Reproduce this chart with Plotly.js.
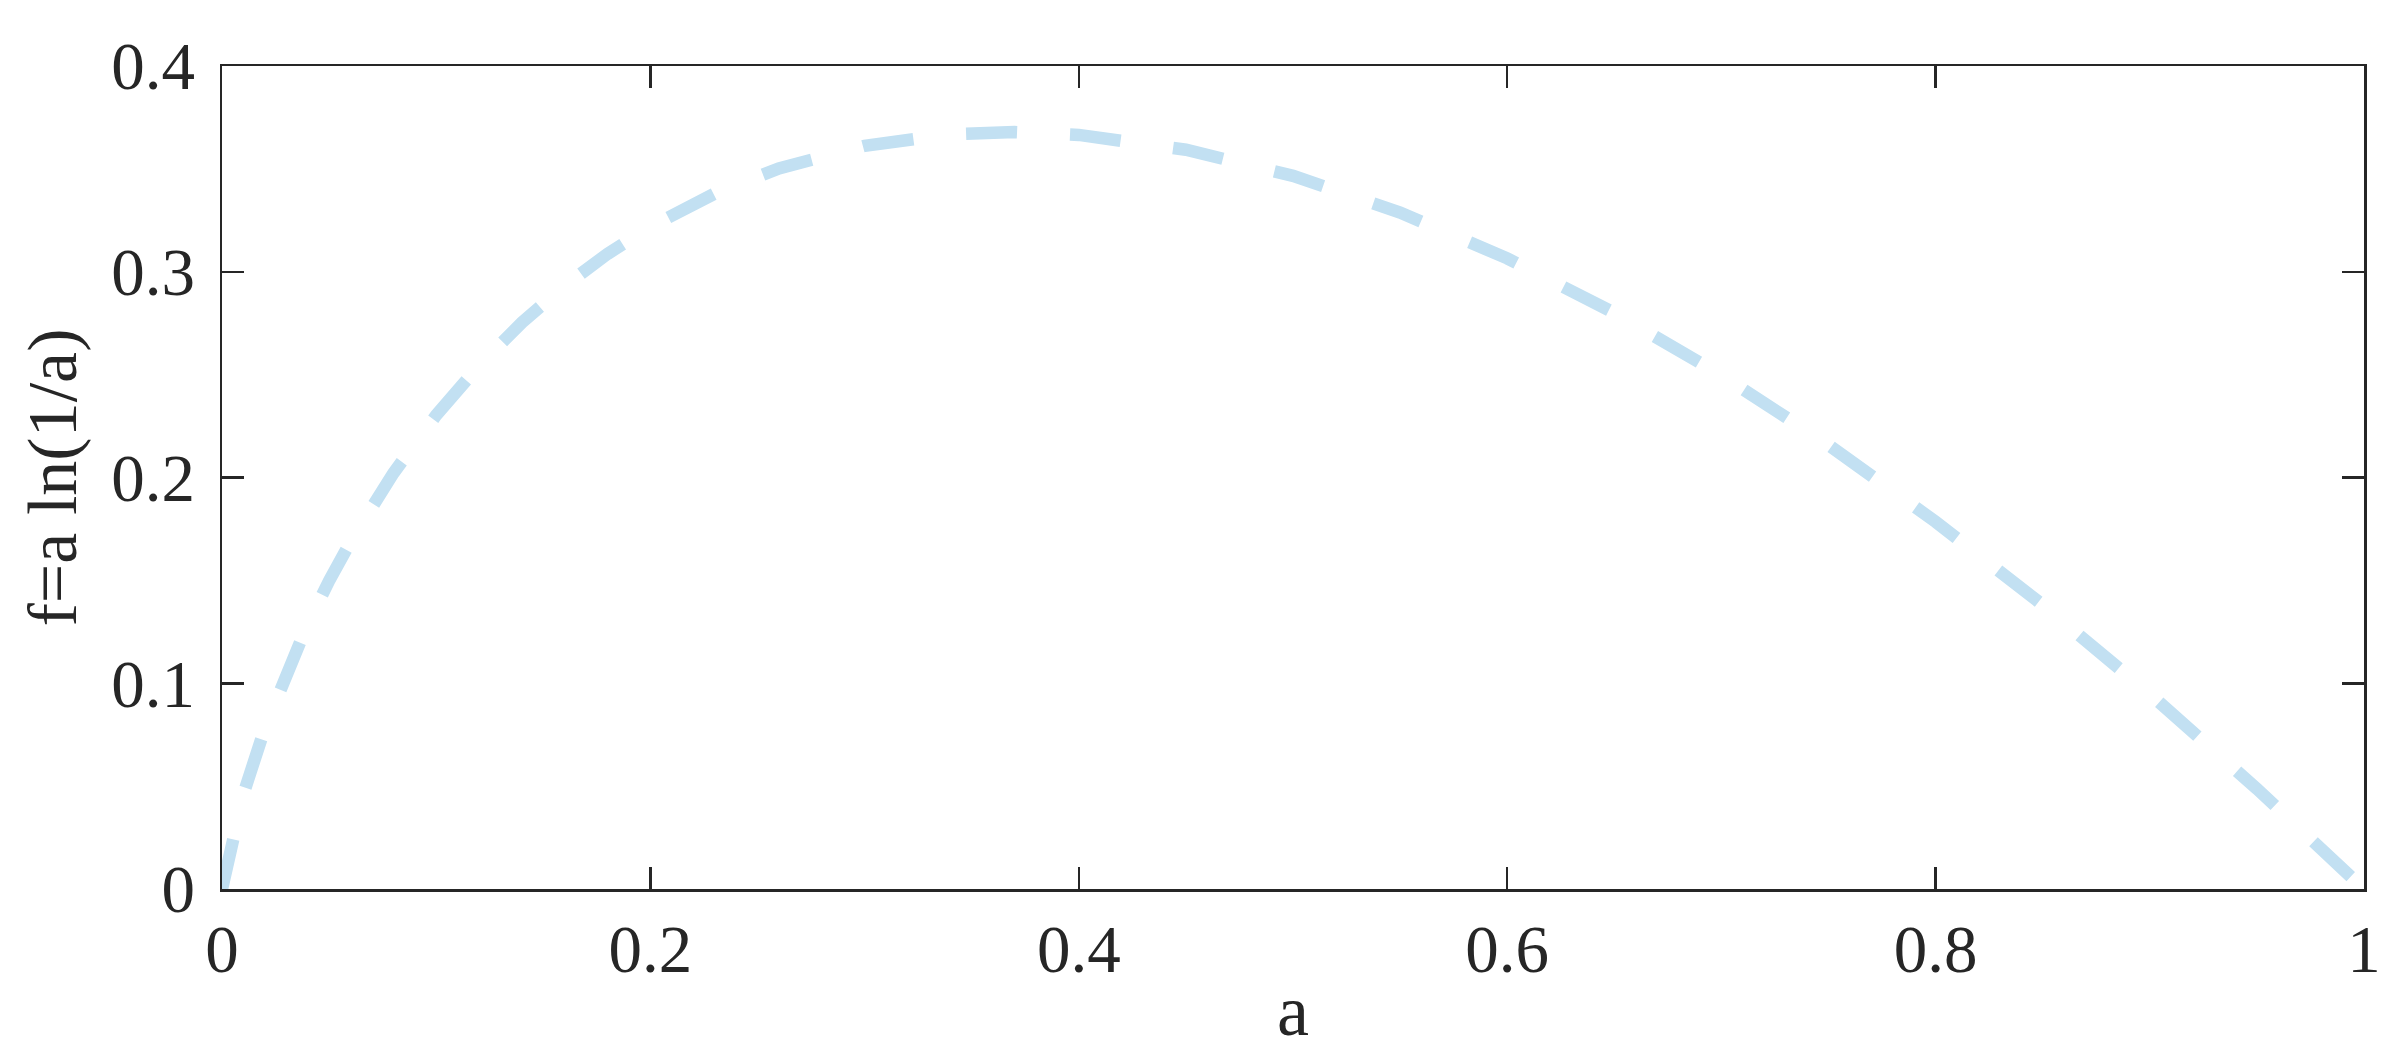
<!DOCTYPE html>
<html>
<head>
<meta charset="utf-8">
<script src="https://cdn.plot.ly/plotly-3.0.1.min.js"></script>
<style>html,body{margin:0;padding:0;background:#fff;}#chart{width:2405px;height:1061px;}</style>
</head>
<body>
<div id="chart"></div>
<script>
// a values and f = a ln(1/a)
const aValues = [0, 0.01, 0.02, 0.03, 0.04, 0.05, 0.06, 0.08, 0.10, 0.12, 0.14, 0.16, 0.18, 0.20, 0.23, 0.26, 0.30, 0.34, 0.37, 0.40, 0.45, 0.50, 0.55, 0.60, 0.65, 0.70, 0.75, 0.80, 0.85, 0.90, 0.95, 1.00];
const fValues = [0, 0.0461, 0.0782, 0.1052, 0.1288, 0.1498, 0.1688, 0.2021, 0.2303, 0.2544, 0.2753, 0.2932, 0.3087, 0.3219, 0.3380, 0.3502, 0.3612, 0.3668, 0.3679, 0.3665, 0.3593, 0.3466, 0.3288, 0.3065, 0.2800, 0.2497, 0.2158, 0.1785, 0.1381, 0.0948, 0.0487, 0];
const xTickVals = [0, 0.2, 0.4, 0.6, 0.8, 1];
const xTickText = ['0', '0.2', '0.4', '0.6', '0.8', '1'];
const yTickVals = [0, 0.1, 0.2, 0.3, 0.4];
const yTickText = ['0', '0.1', '0.2', '0.3', '0.4'];

const axisColor = '#262626';
const fontFam = '"Liberation Serif", "Times New Roman", serif';

const trace = {
  x: aValues,
  y: fValues,
  type: 'scatter',
  mode: 'lines',
  line: {color: '#c2e0f2', width: 12.5, dash: '51px,53px'},
  hoverinfo: 'skip',
  showlegend: false
};

const commonAxis = {
  showline: true,
  linecolor: axisColor,
  linewidth: 2.5,
  mirror: 'ticks',
  ticks: 'inside',
  ticklen: 22,
  tickwidth: 2.5,
  tickcolor: axisColor,
  showgrid: false,
  zeroline: false,
  tickfont: {family: fontFam, size: 67, color: axisColor}
};

const layout = {
  width: 2405,
  height: 1061,
  margin: {l: 222, r: 41, t: 66, b: 172},
  paper_bgcolor: '#ffffff',
  plot_bgcolor: '#ffffff',
  showlegend: false,
  xaxis: Object.assign({}, commonAxis, {
    range: [0, 1],
    tickmode: 'array',
    tickvals: xTickVals,
    ticktext: xTickText,
    ticklabelstandoff: 0,
    title: {text: 'a', font: {family: fontFam, size: 72, color: axisColor}, standoff: 0}
  }),
  yaxis: Object.assign({}, commonAxis, {
    range: [0, 0.4],
    tickmode: 'array',
    tickvals: yTickVals,
    ticktext: yTickText,
    ticklabelstandoff: 11,
    title: {text: 'f=a ln(1/a)', font: {family: fontFam, size: 70, color: axisColor}, standoff: 12}
  })
};

Plotly.newPlot('chart', [trace], layout, {staticPlot: true, displayModeBar: false});
</script>
</body>
</html>
